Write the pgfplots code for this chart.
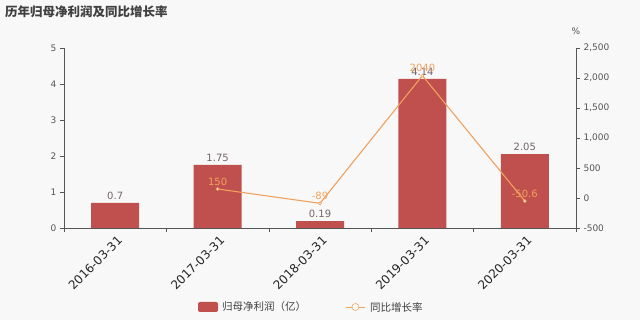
\documentclass[border=0pt]{standalone}
\usepackage{pgfplots}
\pgfplotsset{compat=1.18}
\usepackage{fontspec}
\setmainfont{DejaVu Sans}
\newfontfamily\cjk{Noto Sans CJK SC}
\definecolor{bg}{HTML}{F8F8F8}
\definecolor{barc}{HTML}{C0504D}
\definecolor{linec}{HTML}{F0A15E}
\definecolor{axc}{HTML}{555555}
\definecolor{lblc}{HTML}{74646C}
\begin{document}
\begin{tikzpicture}
\fill[bg] (0,0) rectangle (640pt,320pt);
\useasboundingbox (0,0) rectangle (640pt,320pt);
\node[anchor=north west, inner sep=0pt, text=black!75] at (5pt,314pt) {\cjk\fontsize{12.5}{14}\selectfont\bfseries 历年归母净利润及同比增长率};
\begin{axis}[
  at={(64pt,92pt)}, anchor=south west,
  scale only axis, width=512pt, height=180pt,
  xmin=-0.5, xmax=4.5, ymin=0, ymax=5,
  axis x line*=bottom, axis y line*=left,
  axis line style={axc, line width=0.6pt},
  x axis line style={-},
  y axis line style={-},
  xtick={0,1,2,3,4},
  xticklabels={2016-03-31,2017-03-31,2018-03-31,2019-03-31,2020-03-31},
  major x tick style={draw=none},
  minor xtick={-0.5,0.5,1.5,2.5,3.5,4.5},
  minor tick length=4pt,
  minor x tick style={axc, line width=0.6pt},
  xticklabel style={rotate=45, anchor=north east, font=\fontsize{12}{13}\selectfont, text=black!85, inner sep=1pt, yshift=-2pt},
  ytick={0,1,2,3,4,5},
  yticklabel style={font=\fontsize{9}{10}\selectfont, text=axc},
  y tick style={axc, line width=0.6pt},
  tick align=outside, major tick length=4pt,
  /pgf/number format/assume math mode=true,
  ybar, bar width=48pt,
  nodes near coords,
  every node near coord/.append style={font=\fontsize{10}{11}\selectfont, text=lblc},
  clip=false,
]
\addplot[fill=barc, draw=none] coordinates {(0,0.7) (1,1.75) (2,0.19) (3,4.14) (4,2.05)};
\end{axis}
\begin{axis}[
  at={(64pt,92pt)}, anchor=south west,
  scale only axis, width=512pt, height=180pt,
  xmin=-0.5, xmax=4.5, ymin=-500, ymax=2500,
  axis x line=none, axis y line*=right,
  axis line style={axc, line width=0.6pt},
  y axis line style={-},
  ytick={-500,0,500,1000,1500,2000,2500},
  yticklabel style={font=\fontsize{9}{10}\selectfont, text=axc},
  y tick style={axc, line width=0.6pt},
  tick align=outside, major tick length=4pt,
  /pgf/number format/assume math mode=true,
  /pgf/number format/1000 sep={,},
  clip=false,
]
\addplot[linec, line width=1.1pt, mark=*, mark size=1.5pt, mark options={fill=white, draw=linec, line width=0.6pt},
  nodes near coords, point meta=explicit symbolic,
  every node near coord/.append style={font=\fontsize{10}{11}\selectfont, text=linec, anchor=south, yshift=0pt}]
  coordinates {(1,150)[150] (2,-89)[-89] (3,2040)[2040] (4,-50.6)[-50.6]};
\node[anchor=south, font=\fontsize{9}{10}\selectfont, text=axc] at (rel axis cs:1,1) [yshift=10pt] {\%};
\end{axis}
% legend
\fill[barc, rounded corners=2pt] (198pt,8pt) rectangle (218pt,18pt);
\node[anchor=west, inner sep=0pt, text=black!75] at (222pt,13pt) {\cjk\fontsize{10.5}{12}\selectfont 归母净利润（亿）};
\draw[linec, line width=0.8pt] (346pt,13pt) -- (365pt,13pt);
\draw[linec, fill=white, line width=0.6pt] (355.5pt,13pt) circle (3.5pt);
\node[anchor=west, inner sep=0pt, text=black!75] at (370pt,13pt) {\cjk\fontsize{10.5}{12}\selectfont 同比增长率};
\end{tikzpicture}
\end{document}
